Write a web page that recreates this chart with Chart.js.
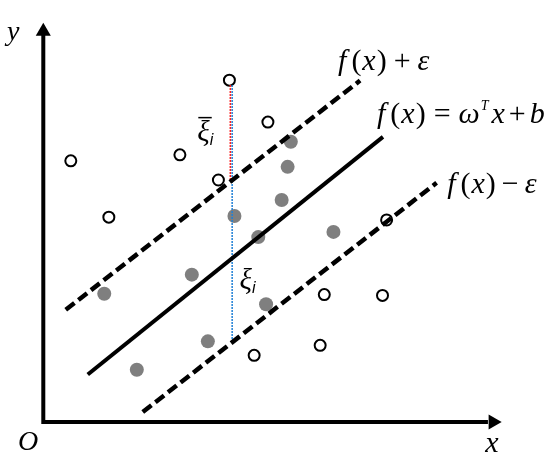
<!DOCTYPE html>
<html>
<head>
<meta charset="utf-8">
<script src="https://cdn.jsdelivr.net/npm/chart.js@4/dist/chart.umd.min.js"></script>
<style>
html, body { margin: 0; padding: 0; background: #fff; }
#wrap { width: 550px; height: 454px; }
.warm { position: absolute; left: -999px; top: 0; font-family: "Liberation Serif"; }
</style>
</head>
<body>
<span class="warm"><i>fxyOεωξ</i>(=+−) <i style="font-family:'Liberation Sans'">i</i></span>
<div id="wrap"><canvas id="chart"></canvas></div>
<script>
// points inside the epsilon tube (grey) and outside / on it (open)
const insideX = [5.40, 5.33, 5.20, 4.17, 4.69, 6.33, 3.24, 1.33, 4.86, 3.59, 2.04];
const insideY = [7.02, 6.39, 5.56, 5.16, 4.63, 4.76, 3.69, 3.21, 2.95, 2.02, 1.31];
const outsideX = [4.06, 4.90, 0.60, 2.98, 3.82, 1.43, 7.49, 6.13, 7.40, 4.60, 6.04];
const outsideY = [8.56, 7.51, 6.54, 6.69, 6.06, 5.13, 5.06, 3.19, 3.17, 1.67, 1.92];

// regression line f(x) and the two bounds f(x)+eps, f(x)-eps
const fitX = [0.97, 7.41];
const fitY = [1.19, 7.14];
const upperX = [0.49, 6.91];
const upperY = [2.81, 8.55];
const lowerX = [2.17, 8.58];
const lowerY = [0.25, 5.99];

// slack of the top point: xi-bar (red) and xi (blue)
const slackUpX = [4.08, 4.08];
const slackUpY = [8.44, 6.06];
const slackDownX = [4.12, 4.12];
const slackDownY = [8.44, 2.08];

// axes with arrow heads
const axisX = [0, 0, 9.7];
const axisY = [9.7, 0, 0];
const arrowX = [0, 9.81];
const arrowY = [9.78, 0];

const pts = (xs, ys) => xs.map((x, i) => ({x: x, y: ys[i]}));

const serif = '"Liberation Serif", "Times New Roman", serif';
const sans = '"Liberation Sans", Arial, sans-serif';
const it = s => 'italic ' + s + 'px ' + serif;
const rm = s => s + 'px ' + serif;

// text parts: [text, font, gap before (px), raise (px), overline]
const labels = [
    {at: [-0.79, 9.57], parts: [['y', it(28)]]},
    {at: [-0.55, -0.70], parts: [['O', it(28)]]},
    {at: [9.64, -0.75], parts: [['x', it(30)]]},
    {at: [6.43, 8.82], parts: [['f', it(30)], ['(', rm(30), 5], ['x', it(30), 1], [')', rm(30), 1],
        ['+', rm(30), 7], ['ε', it(30), 7]]},
    {at: [7.28, 7.49], parts: [['f', it(30)], ['(', rm(30), 5], ['x', it(30), 1], [')', rm(30), 1],
        ['=', rm(30), 8], ['ω', it(30), 8], ['T', it(14), 1, 13], ['x', it(30), 3], ['+', rm(30), 4],
        ['b', it(30), 4]]},
    {at: [8.81, 5.73], parts: [['f', it(30)], ['(', rm(30), 5], ['x', it(30), 1], [')', rm(30), 1],
        ['−', rm(30), 6], ['ε', it(30), 6]]},
    {at: [3.36, 7.04], parts: [['ξ', it(29), 0, 0, true], ['i', 'italic 16px ' + sans, 0, -4]]},
    {at: [4.28, 3.33], parts: [['ξ', it(29)], ['i', 'italic 16px ' + sans, 0, -4]]}
];

const textPlugin = {
    id: 'texts',
    afterDatasetsDraw(c) {
        const ctx = c.ctx;
        const sx = c.scales.x, sy = c.scales.y;
        ctx.save();
        ctx.fillStyle = '#000';
        ctx.textBaseline = 'alphabetic';
        ctx.textAlign = 'left';
        labels.forEach(l => {
            let x = sx.getPixelForValue(l.at[0]);
            const y = sy.getPixelForValue(l.at[1]);
            l.parts.forEach(p => {
                x += p[2] || 0;
                ctx.font = p[1];
                ctx.fillText(p[0], x, y - (p[3] || 0));
                const w = ctx.measureText(p[0]).width;
                if (p[4]) {
                    ctx.fillRect(x + 1, y - 24, w + 1, 1.5);
                }
                x += w;
            });
        });
        ctx.restore();
    }
};

function draw() {
    new Chart(document.getElementById('chart'), {
        type: 'scatter',
        data: {
            datasets: [
                {data: pts(axisX, axisY), showLine: true, borderColor: '#000', borderWidth: 4,
                    borderJoinStyle: 'miter', pointRadius: 0, order: 1},
                {data: pts(arrowX, arrowY), pointStyle: 'triangle', rotation: [0, 90], pointRadius: 8.7,
                    backgroundColor: '#000', borderColor: '#000', borderWidth: 0, order: 1},
                {data: pts(upperX, upperY), showLine: true, borderColor: '#000', borderWidth: 4.5,
                    borderDash: [11, 5], pointRadius: 0, order: 1},
                {data: pts(lowerX, lowerY), showLine: true, borderColor: '#000', borderWidth: 4.5,
                    borderDash: [11, 5], pointRadius: 0, order: 1},
                {data: pts(fitX, fitY), showLine: true, borderColor: '#000', borderWidth: 4,
                    pointRadius: 0, order: 1},
                {data: pts(slackUpX, slackUpY), showLine: true, borderColor: '#ff2020', borderWidth: 1.5,
                    borderDash: [2, 1], pointRadius: 0, order: 2},
                {data: pts(slackDownX, slackDownY), showLine: true, borderColor: '#1f7fd6', borderWidth: 1.5,
                    borderDash: [2, 1], pointRadius: 0, order: 2},
                {data: pts(insideX, insideY), pointRadius: 7, backgroundColor: '#7f7f7f',
                    borderWidth: 0, order: 4},
                {data: pts(outsideX, outsideY), pointRadius: 5.5, backgroundColor: '#fff',
                    borderColor: '#000', borderWidth: 2, order: 3}
            ]
        },
        options: {
            responsive: true,
            maintainAspectRatio: false,
            animation: false,
            layout: {padding: 0, autoPadding: false},
            plugins: {legend: {display: false}, tooltip: {enabled: false}},
            scales: {
                x: {type: 'linear', display: false, min: -0.9446, max: 11.054},
                y: {type: 'linear', display: false, min: -0.8014, max: 10.568}
            }
        },
        plugins: [textPlugin]
    });
}

Promise.all([
    document.fonts.load(it(30)),
    document.fonts.load(rm(30)),
    document.fonts.load('italic 16px ' + sans)
]).then(draw, draw);
</script>
</body>
</html>
